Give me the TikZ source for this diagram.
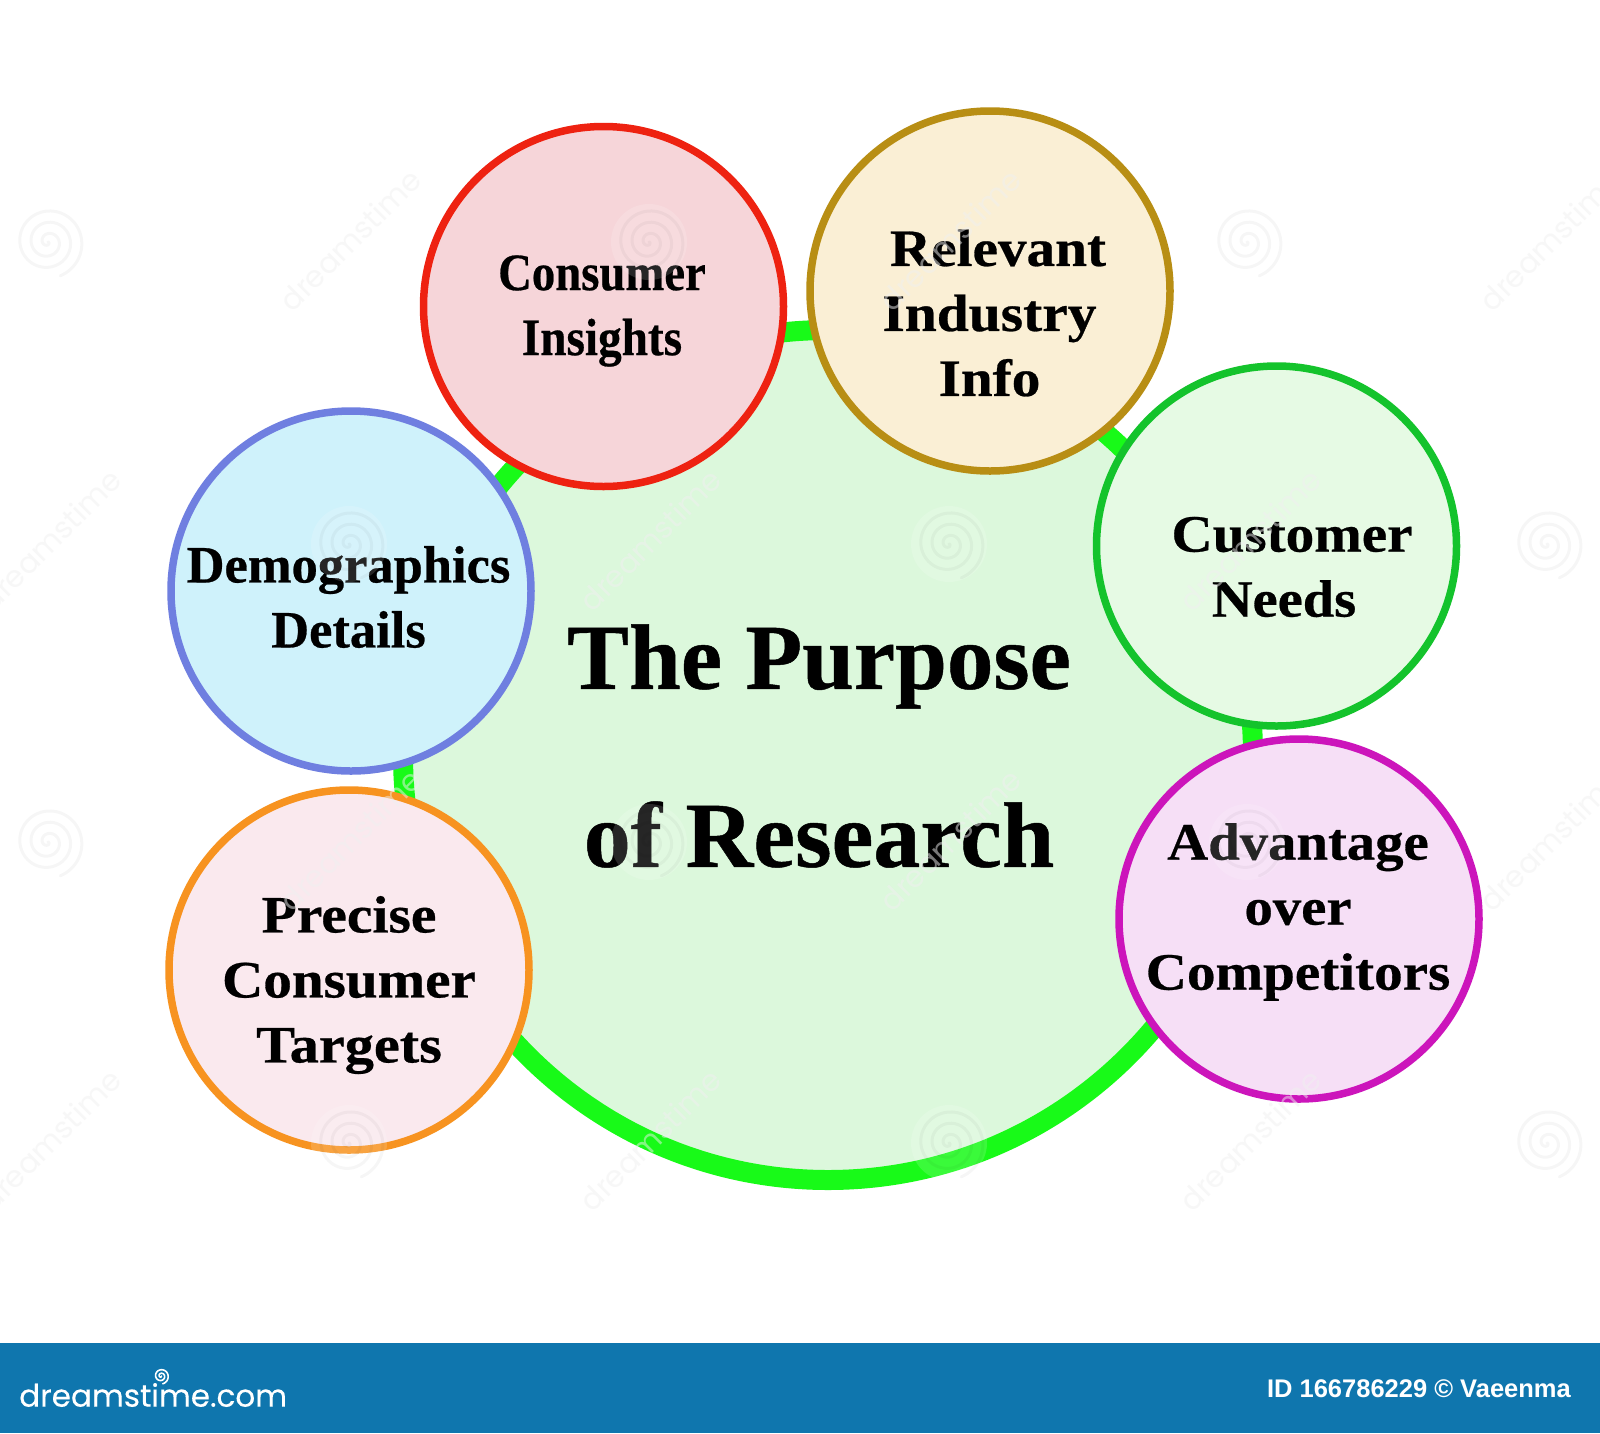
\documentclass[tikz,border=0pt]{standalone}
\usepackage{fontspec}
\setmainfont{Liberation Serif}[BoldFeatures={FakeBold=0.5}]
\newfontfamily\logofont{Poppins}[FakeBold=0.3]
\newfontfamily\wmfont{Poppins}
\newfontfamily\idfont{Liberation Sans}
\definecolor{bigfill}{HTML}{DCF8DC}\definecolor{bigline}{HTML}{18FA18}
\definecolor{redfill}{HTML}{F6D5D9}\definecolor{redline}{HTML}{EE2211}
\definecolor{goldfill}{HTML}{FAEFD5}\definecolor{goldline}{HTML}{B88E14}
\definecolor{grnfill}{HTML}{E6FAE4}\definecolor{grnline}{HTML}{14C32C}
\definecolor{magfill}{HTML}{F6DFF6}\definecolor{magline}{HTML}{CC15BB}
\definecolor{orgfill}{HTML}{FAE9EE}\definecolor{orgline}{HTML}{F79320}
\definecolor{blufill}{HTML}{CFF2FB}\definecolor{bluline}{HTML}{6F7FE0}
\definecolor{banner}{HTML}{0F76AE}
\definecolor{wmgray}{HTML}{F0F0F0}
\newcommand{\sx}[2]{\scalebox{#1}[1]{#2}}
\tikzset{
  x=1pt,y=-1pt,
  disc/.style={circle,inner sep=0pt,minimum size=360pt,line width=7.5pt},
  lab/.style={align=center,inner sep=0pt,font=\fontsize{52.5}{65}\selectfont\bfseries},
  title/.style={align=center,inner sep=0pt,font=\fontsize{93}{178}\selectfont\bfseries},
  wmspiral/.pic={
    \fill[white,opacity=.15] (0,0) circle (38);
    \draw[black,opacity=.035,line width=3pt,line cap=round]
      plot[domain=0:1150,samples=120,smooth] ({\x}:{\x/1150*36});
  },
  logospiral/.pic={
    \draw[white,line width=1.6pt]
      plot[domain=0:800,samples=60,smooth] ({\x}:{\x/800*8});
  }
}
\begin{document}
\begin{tikzpicture}
\useasboundingbox (0,0) rectangle (1600,1433);
\fill[white] (0,0) rectangle (1600,1433);
\node[circle,inner sep=0pt,minimum size=850pt,line width=20pt,draw=bigline,fill=bigfill] (big) at (828,755) {};
\node[disc,draw=redline,fill=redfill] (c1) at (603.5,306.5) {};
\node[disc,draw=goldline,fill=goldfill] (c2) at (990,291) {};
\node[disc,draw=grnline,fill=grnfill] (c3) at (1276.5,546) {};
\node[disc,draw=magline,fill=magfill] (c4) at (1299,919) {};
\node[disc,draw=orgline,fill=orgfill] (c5) at (349,970) {};
\node[disc,draw=bluline,fill=blufill] (c6) at (351,591) {};
\node[title] (t0) at (819,746) {The Purpose\\\sx{1.01}{of Research}};
\node[lab] (t1) at (602,311) {\sx{.89}{Consumer}\\\sx{.90}{Insights}};
\node[lab] (t2) at (989.5,313) {\hspace*{17pt}\sx{1.09}{Relevant}\\\sx{1.095}{Industry}\\\sx{1.09}{Info}};
\node[lab] (t3) at (1284,567) {\hspace*{16pt}\sx{1.088}{Customer}\\\sx{1.076}{Needs}};
\node[lab] (t4) at (1298,912) {\sx{1.08}{Advantage}\\\sx{1.08}{over}\\\sx{1.088}{Competitors}};
\node[lab] (t5) at (349,985) {\sx{1.097}{Precise}\\\sx{1.088}{Consumer}\\\sx{1.11}{Targets}};
\node[lab] (t6) at (348.5,597) {Demographics\\Details};
% watermarks
\foreach \i/\a/\b in {1/48/242,2/649/242,3/1247/242,4/349/544,5/949/544,6/1547/544,7/48/842,8/649/842,9/1247/842,10/349/1143,11/949/1143,12/1547/1143}
  \pic (sp\i) at (\a,\b) {wmspiral};
\foreach \i/\a/\b in {1/350/240,2/950/240,3/1550/240,4/50/540,5/650/540,6/1250/540,7/350/840,8/950/840,9/1550/840,10/50/1140,11/650/1140,12/1250/1140}{
  \node[rotate=45,text=wmgray,text opacity=.5,font=\wmfont\fontsize{30}{30}\selectfont] (wa\i) at (\a,\b) {dreamstime};
}
% banner
\fill[banner] (0,1343) rectangle (1600,1433);
\node[anchor=west,inner sep=0pt,text=white,font=\logofont\fontsize{31}{31}\selectfont] (logo) at (19,1395) {dreamstime.com};
\pic (lsp) at (161,1376) {logospiral};
\node[anchor=east,inner sep=0pt,text=white,font=\idfont\bfseries\fontsize{25.5}{25.5}\selectfont] (idtxt) at (1571,1389) {ID 166786229 © Vaeenma};
\end{tikzpicture}
\end{document}
